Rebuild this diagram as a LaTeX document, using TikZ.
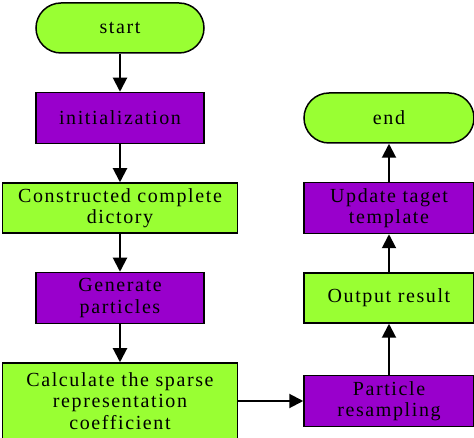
\documentclass[tikz,border=0pt]{standalone}
\usepackage{fontspec}
\setmainfont{Liberation Serif}[LetterSpace=8]
\usepackage{tikz}
\usetikzlibrary{positioning}
\usetikzlibrary{arrows.meta}
\definecolor{limeg}{RGB}{153,255,51}
\definecolor{violetb}{RGB}{153,0,204}

\begin{document}
\begin{tikzpicture}[
    x = 1pt,
    y = 1pt,
    node distance = 38pt,
    font = \fontsize{20}{21.5}\selectfont,
    termf/.style = {
      rectangle,
      draw=black,
      fill=limeg,
      rounded corners=25pt,
      line width=1.5pt,
      minimum width=168pt,
      minimum height=50pt
    },
    greenf/.style = {
      rectangle,
      draw=black,
      fill=limeg,
      line width=1.5pt,
      align=center,
      inner sep=2pt,
      minimum width=235pt,
      minimum height=50pt
    },
    purplef/.style = {
      rectangle,
      draw=black,
      fill=violetb,
      line width=1.5pt,
      align=center,
      inner sep=2pt,
      minimum width=168pt,
      minimum height=51pt
    },
    flow/.style = {
      line width=2pt,
      -{Triangle[length=14pt,width=14pt]}
    }
  ]
    \useasboundingbox (0,0) rectangle (474,-438);
    % left column
    \node[termf] (start) at (120,-28) {start};
    \node[purplef] (init) [below=of start] {initialization};
    \node[greenf] (dict) [below=of init] {Constructed complete\\dictory};
    \node[purplef] (gen) [below=of dict] {Generate\\particles};
    \node[greenf, minimum height=76pt] (calc) [below=of gen] {Calculate the sparse\\representation\\coefficient};
    % right column
    \node[purplef, minimum width=170pt] (resamp) [right=65pt of calc] {Particle\\resampling};
    \node[greenf, minimum width=170pt] (output) [above=51pt of resamp] {Output result};
    \node[purplef, minimum width=170pt] (update) [above=of output] {Update taget\\template};
    \node[termf, minimum width=170pt] (end) [above=of update] {end};
    \draw[flow] (start) -- (init);
    \draw[flow] (init) -- (dict);
    \draw[flow] (dict) -- (gen);
    \draw[flow] (gen) -- (calc);
    \draw[flow] (calc) -- (resamp);
    \draw[flow] (resamp) -- (output);
    \draw[flow] (output) -- (update);
    \draw[flow] (update) -- (end);
  \end{tikzpicture}
\end{document}
